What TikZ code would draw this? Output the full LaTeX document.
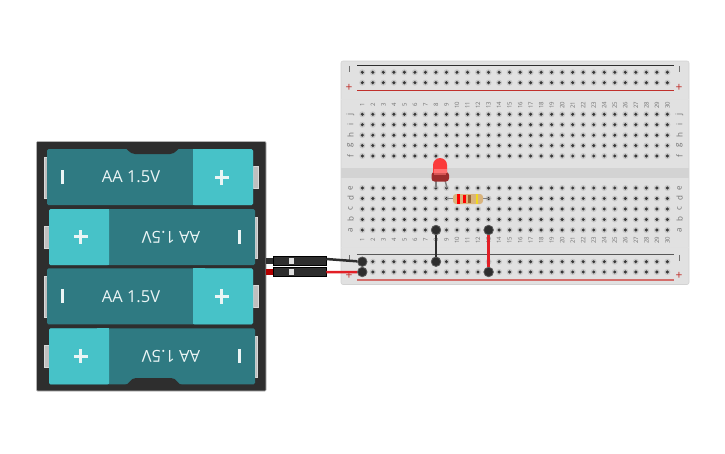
\documentclass[tikz,border=0pt]{standalone}
\usepackage{fontspec}
\setmainfont{Open Sans}
\definecolor{tealdark}{HTML}{2F7A82}
\definecolor{teallight}{HTML}{47C2C8}
\definecolor{holder}{HTML}{2E2E2E}
\definecolor{boardgrey}{HTML}{E1E1E1}
\definecolor{boardband}{HTML}{D3D3D3}
\definecolor{holehalo}{HTML}{C8C8C8}
\definecolor{holedot}{HTML}{383838}
\definecolor{labelgrey}{HTML}{707070}
\definecolor{wirered}{HTML}{E21F26}
\definecolor{railred}{HTML}{C0302C}
\definecolor{ledred}{HTML}{FB3A3A}
\definecolor{ledglow}{HTML}{FF7070}
\definecolor{ledrim}{HTML}{9C2C2C}
\definecolor{bodytan}{HTML}{D9B47E}
\tikzset{
  cell/.style={fill=tealdark,rounded corners=1.5pt},
  cellend/.style={fill=teallight,rounded corners=1.5pt},
  contact/.style={fill=gray!50,draw=gray!30,line width=0.4pt},
  marktext/.style={text=white!92!teal,font=\fontsize{16.5}{16.5}\selectfont,inner sep=0pt},
  boardtext/.style={text=labelgrey,font=\fontsize{6}{6}\selectfont,inner sep=0pt,rotate=90},
  railtext/.style={text=railred,font=\fontsize{12}{12}\selectfont,inner sep=0pt},
  pinhole/.style={circle,fill=holder,draw=gray!70!black,line width=0.8pt,minimum size=9.5pt,inner sep=0pt},
  plugbody/.style={fill=holder,draw=black,line width=0.5pt,minimum width=53pt,minimum height=9pt,inner sep=0pt},
  wire/.style={line width=2.5pt}
}
\begin{document}
\begin{tikzpicture}[x=1pt,y=-1pt]
  \useasboundingbox (0,0) rectangle (725,453);

  % Holder
  \draw[fill=holder,draw=gray!60,line width=0.6pt,rounded corners=1pt] (36.5,141.5) rectangle (266,391);

  % Contacts
  \foreach \yy in {0,119.3} {
    \draw[contact] (44,157+\yy) rectangle (47,198+\yy);
    \draw[contact] (253,166+\yy) rectangle (258,188+\yy);
    \draw[contact] (44,226+\yy) rectangle (49,248+\yy);
    \draw[contact] (255,217+\yy) rectangle (257.5,258+\yy);
  }

  % Batteries
  \foreach \yy in {0,119.3} {
    \fill[cell] (47,149+\yy) rectangle (253,205+\yy);
    \fill[cellend] (193,149+\yy) rectangle (253,205+\yy);
    \fill[teallight] (193,149+\yy) rectangle (205,205+\yy);
    \node[marktext] at (131,177+\yy) {AA 1.5V};
    \fill[white!92!teal] (61.2,170+\yy) rectangle (64.2,184+\yy);
    \fill[white!92!teal] (214.5,175.6+\yy) rectangle (229,178.6+\yy);
    \fill[white!92!teal] (220.3,170+\yy) rectangle (223.3,184.5+\yy);

    \fill[cell] (49,209+\yy) rectangle (255,265+\yy);
    \fill[cellend] (49,209+\yy) rectangle (109,265+\yy);
    \fill[teallight] (97,209+\yy) rectangle (109,265+\yy);
    \node[marktext,rotate=180] at (171,237+\yy) {AA 1.5V};
    \fill[white!92!teal] (237.5,230+\yy) rectangle (240.5,244+\yy);
    \fill[white!92!teal] (73.5,235.4+\yy) rectangle (88,238.4+\yy);
    \fill[white!92!teal] (79.2,229.5+\yy) rectangle (82.2,244+\yy);
  }

  % Notches
  \fill[holder] (124,148) .. controls (128,148) and (129,154) .. (135,154)
    -- (170,154) .. controls (176,154) and (177,148) .. (181,148) -- cycle;
  \fill[holder] (125,385) .. controls (129,385) and (130,378) .. (136,378)
    -- (171,378) .. controls (177,378) and (178,385) .. (182,385) -- cycle;

  % Breadboard
  \draw[fill=boardgrey,draw=gray!35,line width=0.6pt,rounded corners=2pt] (341,61) rectangle (689,284.5);
  \fill[boardband] (341.3,168) rectangle (688.7,178);
  \draw[boardband!70,line width=0.6pt] (341.3,99) -- (688.7,99);
  \draw[boardband!70,line width=0.6pt] (341.3,247) -- (688.7,247);

  % Rails
  \draw[holder,line width=1pt] (357,65) -- (674,65);
  \draw[railred,line width=1pt] (357,90.5) -- (674,90.5);
  \draw[holder!80,line width=1pt] (357,254.5) -- (674,254.5);
  \draw[railred!70,line width=1.2pt] (357,280) -- (674,280);

  % Holes
  \foreach \row in {72.3,82.7,114.3,124.7,135.2,145.6,156,188,198.5,209,219.5,230,261.7,272} {
    \foreach \col in {0,...,29} {
      \fill[holehalo] (362.3+\col*10.52,\row) circle (3);
      \fill[holedot] (362.3+\col*10.52,\row) circle (1.7);
    }
  }

  % Numbers
  \foreach \col in {1,...,30} {
    \node[boardtext] at (351.8+\col*10.52,105) {\col};
    \node[boardtext] at (351.8+\col*10.52,240) {\col};
  }

  % Letters
  \foreach \row/\name in {114.3/j,124.7/i,135.2/h,145.6/g,156/f,188/e,198.5/d,209/c,219.5/b,230/a} {
    \node[boardtext,font=\fontsize{8}{8}\selectfont] at (350.5,\row) {\name};
    \node[boardtext,font=\fontsize{8}{8}\selectfont] at (679.5,\row) {\name};
  }

  % Rail signs
  \foreach \xx in {349,679} {
    \fill[labelgrey] (\xx-0.5,66) rectangle (\xx+0.5,72);
    \fill[labelgrey] (\xx-0.5,255) rectangle (\xx+0.5,260.5);
    \node[railtext] at (\xx,87.5) {+};
    \node[railtext] at (\xx,276) {+};
  }

  % LED
  \draw[gray,line width=1.4pt] (436,180) -- (436,188);
  \draw[gray,line width=1.4pt] (445,180) -- (447,188);
  \fill[ledrim,rounded corners=3pt] (431.5,172) rectangle (449,181.5);
  \fill[ledred] (433,173) -- (433,165) arc (180:360:7) -- (447,173) -- cycle;
  \fill[ledglow] (433.5,169) rectangle (446.5,173);
  \fill[ledglow!60!ledrim] (434,173) rectangle (446,175);

  % Resistor
  \draw[gray,line width=1.4pt] (446,198.5) -- (490,198.5);
  \fill[bodytan,rounded corners=3pt] (453,194) rectangle (483,204);
  \fill[red] (457,194) rectangle (459.7,204);
  \fill[red] (463,194.7) rectangle (465.7,203.3);
  \fill[brown!80!black] (467.6,194.7) rectangle (470.5,203.3);
  \fill[yellow!75!brown] (476,194) rectangle (478,204);

  % Jumpers
  \node[pinhole] (blacktop) at (436,230) {};
  \node[pinhole] (blackrail) at (436,261.7) {};
  \node[pinhole] (redtop) at (488.6,230) {};
  \node[pinhole] (redrail) at (488.6,272) {};
  \draw[holder,wire] (blacktop) -- (blackrail);
  \draw[wirered,wire] (redtop) -- (redrail);

  % Battery leads
  \fill[holder] (266,258) rectangle (273,264);
  \fill[red!70!black] (266,269) rectangle (273,275);
  \node[plugbody] (plugblack) at (299.5,261) {};
  \node[plugbody] (plugred) at (299.5,272.2) {};
  \fill[gray!25] (289,258) rectangle (294,264);
  \fill[gray!25] (289,269.2) rectangle (294,275.2);
  \node[pinhole] (railblack) at (362.3,261.7) {};
  \node[pinhole] (railred) at (362.3,272) {};
  \draw[holder,wire] ([yshift=2pt]plugblack.east) -- (railblack);
  \draw[wirered,wire] (plugred.east) -- (railred);
\end{tikzpicture}
\end{document}
